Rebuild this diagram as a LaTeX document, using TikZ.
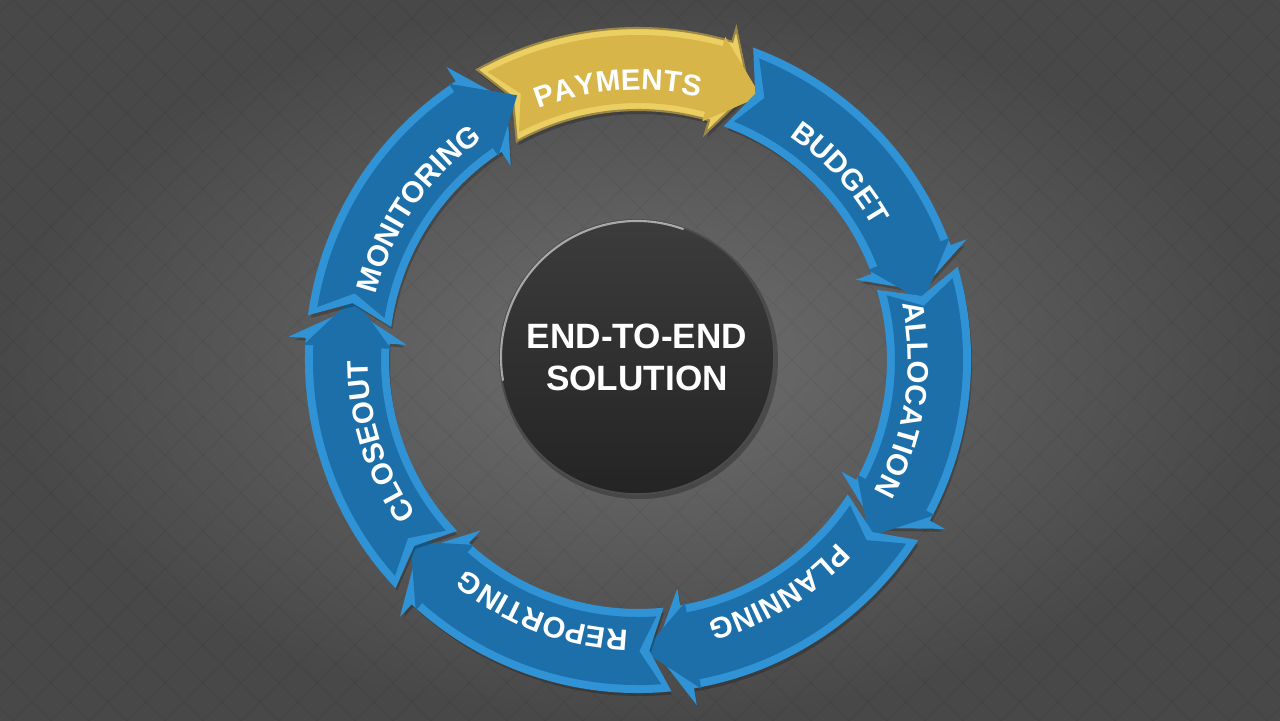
\documentclass[tikz,border=0pt]{standalone}
\usepackage{fontspec}
\setmainfont{Liberation Sans}
\usetikzlibrary{decorations.text}
\definecolor{bgin}{HTML}{6E6E6E}
\definecolor{bgout}{HTML}{484848}
\definecolor{cblue}{HTML}{1C6FA9}
\definecolor{cblueedge}{HTML}{2F93D5}
\definecolor{cgold}{HTML}{D7B548}
\definecolor{cgoldedge}{HTML}{EBCF62}
\definecolor{cgoldrim}{HTML}{9C8744}
\definecolor{chubtop}{HTML}{3C3C3C}
\definecolor{chubbot}{HTML}{242424}

% one ring arrow: #1 tail angle, #2 tail angle of the next one, #3 inset
\newcommand{\ringarrow}[3]{%
  ({#1-0.2*#3}:{\Ro-#3}) arc[start angle={#1-0.2*#3}, end angle={#2+4+0.2*#3}, radius={\Ro-#3}]
  -- ({#2+4+0.2*#3}:{\Ro+14-1.6*#3}) -- ({#2-2-0.35*#3}:\Rm)
  -- ({#2+4+0.2*#3}:{\Ri-14+1.6*#3}) -- ({#2+4+0.2*#3}:{\Ri+#3})
  arc[start angle={#2+4+0.2*#3}, end angle={#1-0.2*#3}, radius={\Ri+#3}]
  -- ({#1-3.5-0.25*#3}:\Rm) -- cycle}
\newcommand{\ringlabel}[3]{%
  \path[decorate, decoration={text along path, text color=white, text align=center,
        text={|\bfseries\fontsize{8.4}{10}\selectfont|#3}}]
    ({#1-2}:\Rt) arc[start angle={#1-2}, end angle={#2+2}, radius=\Rt];}

\begin{document}
\begin{tikzpicture}[x=0.01cm, y=0.01cm,
  hatch/.style={black, opacity=.045, line width=0.35pt},
  hubstyle/.style={circle, minimum size=2.74cm, top color=chubtop, bottom color=chubbot,
                   draw=black!70, line width=0.5pt, text=white, align=center,
                   font=\bfseries\fontsize{10}{12}\selectfont}]
\def\Ro{332}\def\Ri{250}\def\Rm{291}\def\Rt{270}
% ================= background =================
\useasboundingbox (-638,-360) rectangle (642,360);
\shade[inner color=bgin, outer color=bgout] (-638,-360) rectangle (642,360);
\begin{scope}
  \clip (-638,-360) rectangle (642,360);
  \foreach \i in {-1500,-1462,...,700}{
    \draw[hatch] (\i,-400) -- ++(800,800);
    \draw[hatch] (\i+800,-400) -- ++(-800,800);
  }
\end{scope}
% ================= ring of arrows =================
\foreach \a/\b/\lbl/\fc/\ec/\rc in {
    119/69.5/PAYMENTS/cgold/cgoldedge/cgoldrim,
    69.5/16/BUDGET/cblue/cblueedge/cblueedge,
    16/-33/ALLOCATION/cblue/cblueedge/cblueedge,
    -33/-84.5/PLANNING/cblue/cblueedge/cblueedge,
    -84.5/-137/REPORTING/cblue/cblueedge/cblueedge,
    -137/-188/CLOSEOUT/cblue/cblueedge/cblueedge,
    -188/-241/MONITORING/cblue/cblueedge/cblueedge}{
  \fill[black, opacity=.22, shift={(2,-4)}] \ringarrow{\a}{\b}{0};
  \filldraw[fill=\ec, draw=\rc, line width=0.6pt] \ringarrow{\a}{\b}{0};
  \fill[\fc] \ringarrow{\a}{\b}{7};
  \edef\x{\noexpand\ringlabel{\a}{\b}{\lbl}}\x
}
% ================= hub =================
\fill[black, opacity=.25] (1,0) circle (139);
\node[hubstyle] (hub) at (-1,3) {END-TO-END\\SOLUTION};
\draw[white, opacity=.55, line width=0.6pt] (hub.center) ++(70:136) arc[start angle=70, end angle=190, radius=136];
\end{tikzpicture}
\end{document}
